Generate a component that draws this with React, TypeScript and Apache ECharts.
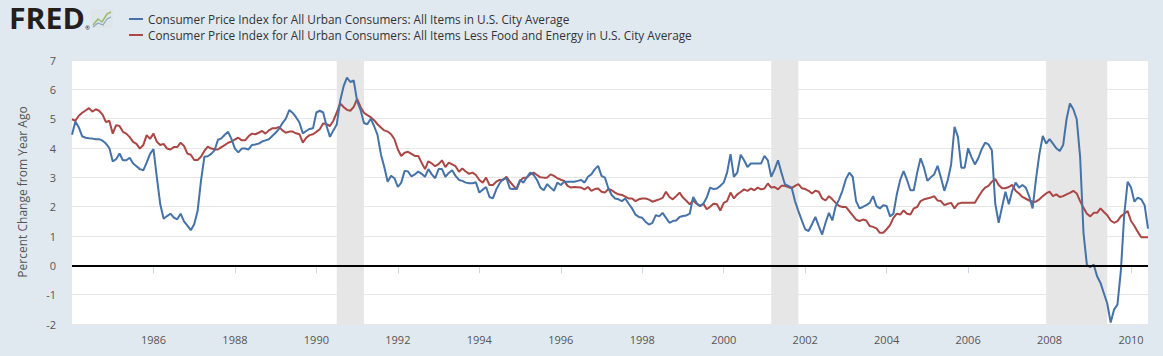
import React, { useEffect, useRef } from "react";
import * as echarts from "echarts";

// Monthly percent change from year ago, Jan 1984 – Jun 2010
const START_YEAR = 1984;

const allItems: number[] = [
  4.45, 4.9, 4.7, 4.4, 4.35, 4.33, 4.32, 4.3, 4.3, 4.25, 4.15, 4.0, // 1984
  3.54, 3.62, 3.81, 3.58, 3.58, 3.67, 3.47, 3.38, 3.28, 3.24, 3.5, 3.8, // 1985
  3.96, 3.0, 2.08, 1.59, 1.68, 1.76, 1.63, 1.57, 1.76, 1.5, 1.35, 1.2, // 1986
  1.4, 1.85, 2.88, 3.7, 3.72, 3.8, 3.92, 4.28, 4.33, 4.45, 4.55, 4.3, // 1987
  3.98, 3.85, 3.98, 3.98, 3.95, 4.1, 4.12, 4.15, 4.22, 4.26, 4.3, 4.41, // 1988
  4.52, 4.65, 4.85, 5.0, 5.29, 5.2, 5.05, 4.87, 4.5, 4.58, 4.65, 4.67, // 1989
  5.21, 5.27, 5.21, 4.75, 4.38, 4.6, 4.8, 5.6, 6.1, 6.4, 6.25, 6.3, // 1990
  5.6, 5.3, 4.85, 4.81, 5.0, 4.75, 4.45, 3.79, 3.35, 2.85, 3.05, 2.97, // 1991
  2.67, 2.82, 3.22, 3.2, 3.03, 3.1, 3.2, 3.12, 3.02, 3.28, 3.1, 2.97, // 1992
  3.28, 3.28, 3.02, 3.15, 3.24, 3.05, 2.91, 2.88, 2.82, 2.8, 2.8, 2.83, // 1993
  2.48, 2.58, 2.67, 2.33, 2.28, 2.59, 2.8, 2.94, 2.97, 2.62, 2.6, 2.62, // 1994
  2.91, 2.82, 3.0, 3.16, 3.08, 2.91, 2.65, 2.56, 2.77, 2.65, 2.54, 2.82, // 1995
  2.74, 2.85, 2.85, 2.85, 2.85, 2.88, 2.91, 2.82, 3.02, 3.1, 3.27, 3.39, // 1996
  3.05, 2.99, 2.63, 2.4, 2.28, 2.25, 2.19, 2.28, 2.1, 1.94, 1.73, 1.65, // 1997
  1.62, 1.48, 1.39, 1.45, 1.71, 1.67, 1.79, 1.62, 1.45, 1.51, 1.53, 1.65, // 1998
  1.68, 1.7, 1.76, 2.33, 2.13, 2.02, 2.1, 2.31, 2.65, 2.6, 2.62, 2.71, // 1999
  2.82, 3.16, 3.79, 3.02, 3.16, 3.77, 3.58, 3.35, 3.47, 3.47, 3.47, 3.47, // 2000
  3.73, 3.58, 3.02, 3.27, 3.58, 3.16, 2.77, 2.71, 2.65, 2.19, 1.85, 1.53, // 2001
  1.23, 1.17, 1.4, 1.65, 1.34, 1.05, 1.45, 1.79, 1.53, 2.02, 2.25, 2.55, // 2002
  2.94, 3.16, 3.02, 2.19, 1.94, 1.99, 2.05, 2.13, 2.36, 2.02, 1.94, 2.05, // 2003
  2.02, 1.67, 1.76, 2.42, 2.91, 3.21, 2.91, 2.56, 2.56, 3.16, 3.65, 3.33, // 2004
  2.88, 3.0, 3.1, 3.39, 2.99, 2.54, 2.9, 3.44, 4.72, 4.38, 3.33, 3.33, // 2005
  3.99, 3.69, 3.44, 3.65, 3.96, 4.18, 4.12, 3.92, 2.1, 1.45, 1.99, 2.51, // 2006
  2.08, 2.54, 2.82, 2.65, 2.74, 2.65, 2.35, 1.94, 2.94, 3.79, 4.41, 4.15, // 2007
  4.3, 4.15, 3.99, 3.9, 4.1, 4.98, 5.52, 5.32, 4.98, 3.7, 1.1, 0.01, // 2008
  -0.06, 0.03, -0.37, -0.6, -0.95, -1.3, -1.95, -1.51, -1.34, -0.2, 1.73, 2.85, // 2009
  2.65, 2.17, 2.31, 2.25, 2.05, 1.25, // 2010
];

const lessFoodEnergy: number[] = [
  4.98, 4.93, 5.1, 5.2, 5.28, 5.36, 5.24, 5.32, 5.27, 5.14, 4.88, 4.93, // 1984
  4.49, 4.78, 4.75, 4.55, 4.49, 4.37, 4.21, 4.14, 3.98, 4.1, 4.44, 4.31, // 1985
  4.49, 4.21, 4.1, 4.14, 3.98, 3.95, 4.03, 4.03, 4.18, 4.07, 3.81, 3.77, // 1986
  3.59, 3.59, 3.7, 3.9, 4.05, 3.98, 3.96, 3.95, 4.03, 4.1, 4.18, 4.22, // 1987
  4.29, 4.35, 4.26, 4.26, 4.4, 4.49, 4.47, 4.52, 4.58, 4.49, 4.6, 4.67, // 1988
  4.67, 4.72, 4.6, 4.52, 4.56, 4.56, 4.5, 4.47, 4.18, 4.35, 4.44, 4.47, // 1989
  4.55, 4.64, 4.84, 4.81, 4.75, 4.93, 5.21, 5.52, 5.4, 5.3, 5.27, 5.4, // 1990
  5.67, 5.4, 5.2, 5.12, 5.05, 4.95, 4.81, 4.7, 4.6, 4.56, 4.47, 4.3, // 1991
  3.95, 3.73, 3.84, 3.87, 3.8, 3.73, 3.73, 3.5, 3.28, 3.55, 3.47, 3.38, // 1992
  3.45, 3.58, 3.35, 3.5, 3.44, 3.38, 3.19, 3.3, 3.2, 3.12, 3.16, 3.08, // 1993
  2.91, 2.82, 2.99, 2.74, 2.74, 2.85, 2.91, 2.91, 3.02, 2.85, 2.72, 2.59, // 1994
  2.88, 2.99, 2.99, 3.1, 3.16, 3.08, 3.0, 2.99, 2.99, 3.1, 3.05, 2.97, // 1995
  2.92, 2.88, 2.71, 2.65, 2.67, 2.66, 2.65, 2.59, 2.67, 2.54, 2.6, 2.62, // 1996
  2.51, 2.48, 2.6, 2.56, 2.48, 2.42, 2.4, 2.34, 2.28, 2.28, 2.19, 2.25, // 1997
  2.28, 2.28, 2.24, 2.17, 2.21, 2.25, 2.3, 2.51, 2.33, 2.25, 2.36, 2.48, // 1998
  2.31, 2.2, 2.08, 2.21, 2.1, 2.02, 2.1, 1.91, 2.0, 2.1, 2.08, 1.87, // 1999
  2.13, 2.19, 2.48, 2.28, 2.42, 2.5, 2.59, 2.54, 2.62, 2.56, 2.65, 2.59, // 2000
  2.62, 2.79, 2.65, 2.67, 2.59, 2.71, 2.71, 2.67, 2.63, 2.71, 2.77, 2.63, // 2001
  2.6, 2.54, 2.45, 2.54, 2.51, 2.28, 2.21, 2.36, 2.25, 2.13, 2.02, 1.99, // 2002
  1.99, 1.85, 1.7, 1.56, 1.51, 1.56, 1.53, 1.34, 1.31, 1.26, 1.11, 1.11, // 2003
  1.23, 1.37, 1.62, 1.76, 1.73, 1.87, 1.76, 1.73, 1.94, 1.99, 2.19, 2.25, // 2004
  2.28, 2.31, 2.36, 2.21, 2.19, 2.05, 2.1, 2.13, 1.94, 2.1, 2.13, 2.13, // 2005
  2.13, 2.13, 2.13, 2.33, 2.51, 2.65, 2.71, 2.85, 2.94, 2.74, 2.63, 2.63, // 2006
  2.67, 2.74, 2.54, 2.45, 2.33, 2.27, 2.21, 2.17, 2.17, 2.25, 2.36, 2.45, // 2007
  2.51, 2.36, 2.42, 2.33, 2.36, 2.42, 2.47, 2.54, 2.45, 2.19, 1.96, 1.76, // 2008
  1.67, 1.79, 1.79, 1.94, 1.82, 1.71, 1.53, 1.45, 1.51, 1.67, 1.76, 1.85, // 2009
  1.51, 1.34, 1.14, 0.96, 0.96, 0.96, // 2010
];

const seriesNames: string[] = [
  "Consumer Price Index for All Urban Consumers: All Items in U.S. City Average",
  "Consumer Price Index for All Urban Consumers: All Items Less Food and Energy in U.S. City Average",
];

const recessions: [string, string][] = [
  ["1990-07", "1991-03"],
  ["2001-03", "2001-11"],
  ["2007-12", "2009-06"],
];

const Y_MIN = -2;
const Y_MAX = 7;
const Y_INTERVAL = 1;

const months: string[] = allItems.map(
  (_, i) => `${START_YEAR + Math.floor(i / 12)}-${String((i % 12) + 1).padStart(2, "0")}`
);

const isLabelMonth = (index: number, value: string) =>
  index > 0 && value.endsWith("-01") && parseInt(value.slice(0, 4), 10) % 2 === 0;

export default function App() {
  const ref = useRef<HTMLDivElement>(null);

  useEffect(() => {
    if (!ref.current) return;
    const chart = echarts.init(ref.current, undefined, { renderer: "svg" });
    const font = "'Open Sans', 'DejaVu Sans', sans-serif";
    chart.setOption({
      animation: false,
      backgroundColor: "#e1e9f0",
      textStyle: { fontFamily: font },
      graphic: [
        {
          type: "text",
          x: 9,
          y: 4,
          scaleX: 1.08,
          style: {
            text: "FRED",
            font: "bold 28px 'Open Sans', sans-serif",
            fill: "#231f20",
            textVerticalAlign: "top",
          },
        },
        {
          type: "text",
          x: 85,
          y: 25,
          style: { text: "®", font: "6px 'Open Sans', sans-serif", fill: "#231f20" },
        },
        {
          type: "group",
          x: 91,
          y: 9,
          children: [
            { type: "rect", shape: { x: 0, y: 0, width: 22, height: 19, r: 2 }, style: { fill: "#dfe6ea" } },
            { type: "polyline", shape: { points: [[2, 16], [7, 10], [11, 13], [16, 5], [20, 3]] }, style: { stroke: "#9bb86a", lineWidth: 1.5, fill: "none" } },
            { type: "polyline", shape: { points: [[2, 18], [7, 14], [12, 16], [16, 10], [20, 8]] }, style: { stroke: "#8aa7c4", lineWidth: 1.2, fill: "none" } },
          ],
        },
      ],
      legend: {
        data: seriesNames,
        orient: "vertical",
        left: 124,
        top: 8,
        itemWidth: 14,
        itemHeight: 2,
        itemGap: 4,
        icon: "rect",
        selectedMode: false,
        textStyle: { fontSize: 11.8, color: "#333", fontFamily: font },
      },
      grid: {
        left: 72,
        right: 15,
        top: 60,
        bottom: 32,
        show: true,
        backgroundColor: "#ffffff",
        borderWidth: 0,
      },
      xAxis: {
        type: "category",
        data: months,
        boundaryGap: false,
        axisLine: { show: true, lineStyle: { color: "#ccd6eb", width: 1 } },
        axisTick: {
          show: true,
          interval: (i: number, v: string) => isLabelMonth(i, v),
          length: 8,
          lineStyle: { color: "#ccd6eb" },
        },
        axisLabel: {
          interval: (i: number, v: string) => isLabelMonth(i, v),
          formatter: (v: string) => v.slice(0, 4),
          color: "#555",
          fontSize: 11,
          margin: 10,
          fontFamily: font,
        },
        splitLine: { show: false },
      },
      yAxis: {
        type: "value",
        min: Y_MIN,
        max: Y_MAX,
        interval: Y_INTERVAL,
        name: "Percent Change from Year Ago",
        nameLocation: "middle",
        nameGap: 44,
        nameTextStyle: { color: "#555", fontSize: 12, fontFamily: font },
        axisLine: { show: false },
        axisTick: { show: false },
        axisLabel: { color: "#555", fontSize: 11, margin: 16, fontFamily: font },
        splitLine: { show: true, lineStyle: { color: "#e6e6e6", width: 1 } },
      },
      series: [
        {
          name: "recessions",
          type: "line",
          z: 1,
          data: months.map(() => null),
          silent: true,
          markArea: {
            silent: true,
            itemStyle: { color: "#e6e6e6", opacity: 1 },
            data: recessions.map(([a, b]) => [{ xAxis: a }, { xAxis: b }]),
          },
        },
        {
          name: "zero",
          type: "line",
          z: 2,
          data: months.map(() => null),
          silent: true,
          markLine: {
            silent: true,
            symbol: "none",
            label: { show: false },
            lineStyle: { color: "#000000", width: 2, type: "solid" },
            data: [{ yAxis: 0 }],
          },
        },
        {
          name: seriesNames[0],
          type: "line",
          z: 4,
          data: allItems,
          showSymbol: false,
          symbol: "none",
          lineStyle: { color: "#4572a7", width: 2 },
          itemStyle: { color: "#4572a7" },
        },
        {
          name: seriesNames[1],
          type: "line",
          z: 3,
          data: lessFoodEnergy,
          showSymbol: false,
          symbol: "none",
          lineStyle: { color: "#aa4643", width: 2 },
          itemStyle: { color: "#aa4643" },
        },
      ],
    });
    return () => chart.dispose();
  }, []);

  return (
    <div
      ref={ref}
      style={{ position: "fixed", left: 0, top: 0, width: 1163, height: 356 }}
    />
  );
}
